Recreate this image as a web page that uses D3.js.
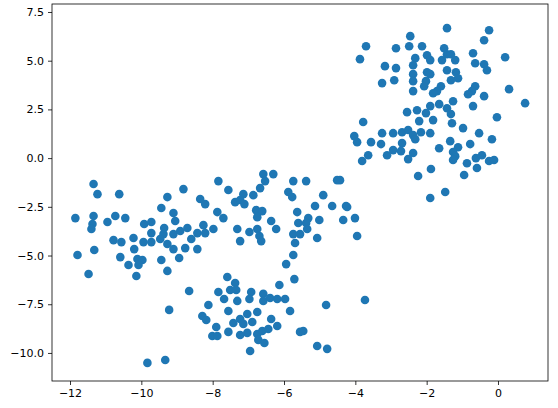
<!DOCTYPE html>
<html>
<head>
<meta charset="UTF-8">
<style>
  body { margin: 0; background: white; }
  text { font-family: "DejaVu Sans", sans-serif; font-size: 11px; }
</style>
</head>
<body>
<svg width="558" height="408"></svg>
<script src="https://d3js.org/d3.v7.min.js"></script>
<script>
const xs = [
  -1.43,-0.25,-2.46,-0.39,-3.70,-2.86,-2.49,-2.13,-1.51,-3.87,-2.32,-1.99,-1.90,-1.57,-1.43,-1.32,-1.20,-0.70,0.20,-0.64,
  -0.39,-0.31,-3.17,-2.86,-2.38,-2.38,-1.99,-1.90,-1.43,-1.18,-1.12,-1.32,-3.25,-2.91,-2.38,-2.02,-2.07,-1.60,-1.71,-1.82,
  -2.38,-0.64,-0.73,-0.84,-0.39,0.31,0.76,-1.26,-0.70,-1.90,-1.65,-1.43,-2.27,-2.55,-2.02,-1.32,-2.21,-1.82,-1.29,-0.03,
  -3.78,-0.98,-0.53,-0.17,-4.03,-3.95,-3.56,-3.25,-2.94,-2.69,-2.52,-2.38,-2.16,-1.90,-2.32,-2.69,-3.28,-2.94,-3.11,-2.72,
  -2.38,-2.52,-3.64,-3.81,-1.65,-1.34,-1.12,-0.78,-1.26,-1.20,-1.26,-0.87,-0.62,-0.45,-0.25,-0.11,-0.59,-0.95,-1.88,-2.24,
  -1.48,-1.90,-4.26,-4.43,
  -11.34,-11.23,-10.62,-8.82,-9.27,-8.35,-8.21,-11.85,-11.34,-11.37,-11.40,-10.95,-10.73,-10.45,-9.44,-9.10,-9.05,-9.92,-9.72,-9.72,
  -9.36,-9.38,-9.10,-8.91,-8.71,-8.43,-8.26,-8.21,-10.78,-10.56,-10.22,-10.20,-9.94,-9.72,-9.47,-9.27,-9.10,-8.77,-8.60,-8.43,
  -11.79,-11.32,-10.59,-10.11,-9.97,-10.36,-10.08,-9.44,-8.94,-9.27,-11.48,-10.14,
  -7.84,-6.58,-6.30,-6.53,-6.67,-7.56,-5.74,-5.38,-4.51,-5.88,-5.77,-7.14,-6.86,-7.37,-7.23,-7.11,-7.87,-7.70,-6.78,-6.61,
  -6.75,-4.90,-5.13,-4.65,-4.23,-5.63,-5.32,-5.01,-4.34,-4.01,-6.36,-6.22,-5.60,-5.38,-5.35,-7.98,-7.31,-6.97,-6.75,-6.69,
  -6.64,-7.23,-5.74,-5.55,-5.07,-3.95,-5.69,-5.74,-5.94,
  -7.59,-7.37,-5.71,-8.66,-7.84,-7.51,-7.34,-7.68,-7.31,-6.92,-6.97,-6.58,-6.58,-6.39,-6.19,-6.13,-5.97,-3.73,-4.82,-9.22,
  -8.12,-7.56,-6.75,-8.29,-8.18,-7.03,-7.23,-7.42,-7.14,-6.89,-6.36,-5.83,-7.90,-8.01,-7.87,-7.56,-7.23,-7.03,-6.75,-6.61,
  -6.44,-6.19,-6.72,-6.55,-5.55,-5.46,-5.07,-4.79,-6.95,-9.83,-9.33
];
const ys = [
  6.67,6.56,6.26,6.05,5.74,5.64,5.74,5.74,5.64,5.08,5.13,5.28,5.03,5.03,5.33,5.33,5.03,5.38,5.18,4.87,
  4.82,4.51,4.72,4.62,4.77,4.31,4.41,4.31,4.51,4.41,4.10,4.00,3.85,4.00,3.95,3.95,3.69,3.69,3.44,3.33,
  3.44,3.69,3.44,3.28,3.18,3.54,2.82,2.92,2.67,2.67,2.77,2.56,2.46,2.36,2.31,2.26,1.90,1.95,1.79,2.10,
  1.85,1.54,1.28,0.97,1.13,0.82,0.82,1.28,1.28,1.33,1.44,1.18,1.33,1.28,0.97,0.77,0.72,0.41,0.15,0.36,
  0.26,-0.05,0.15,-0.15,0.51,0.87,0.56,0.72,0.31,0.10,-0.10,-0.26,0.00,0.15,-0.15,-0.10,-0.51,-0.87,-0.56,-0.92,
  -1.74,-2.05,-2.46,-1.13,
  -1.33,-1.85,-1.85,-1.59,-2.00,-2.10,-2.36,-3.08,-2.97,-3.38,-3.64,-3.28,-2.97,-3.08,-2.56,-2.82,-3.23,-3.38,-3.28,-3.85,
  -3.59,-3.90,-3.90,-3.74,-3.59,-3.85,-3.44,-3.85,-4.21,-4.31,-4.10,-4.67,-4.31,-4.31,-4.15,-4.41,-4.67,-4.62,-4.15,-4.67,
  -4.97,-4.72,-5.08,-5.18,-5.23,-5.49,-5.49,-5.23,-5.13,-5.79,-5.95,-6.05,
  -1.18,-0.82,-0.82,-1.18,-1.54,-1.64,-1.18,-1.18,-1.13,-1.74,-2.00,-1.85,-1.90,-2.26,-2.15,-2.36,-2.77,-3.08,-2.67,-2.72,
  -3.03,-1.90,-2.46,-2.46,-2.51,-2.77,-3.08,-3.18,-3.18,-3.08,-3.23,-3.64,-3.33,-3.33,-3.64,-3.64,-3.64,-3.79,-3.64,-4.00,
  -4.26,-4.26,-3.90,-3.90,-4.10,-4.00,-4.36,-4.97,-5.44,
  -6.10,-6.41,-6.21,-6.82,-6.87,-6.77,-6.77,-7.23,-7.33,-6.87,-7.23,-6.97,-7.33,-7.18,-7.23,-6.51,-7.23,-7.28,-7.54,-7.79,
  -7.54,-7.85,-7.90,-8.10,-8.31,-8.00,-8.26,-8.46,-8.51,-8.41,-8.26,-7.85,-8.67,-9.13,-9.13,-8.92,-9.08,-8.97,-9.03,-8.87,
  -8.77,-8.62,-9.33,-9.49,-8.92,-8.87,-9.64,-9.79,-9.90,-10.51,-10.36
];
const xTicks = [-12, -10, -8, -6, -4, -2, 0];
const yTicks = [-10, -7.5, -5, -2.5, 0, 2.5, 5, 7.5];

const mLeft = 52, mRight = 548, mTop = 4, mBottom = 381;
const x = d3.scaleLinear().domain([-12.505, 1.402]).range([mLeft, mRight]);
const y = d3.scaleLinear().domain([-11.44, 7.91]).range([mBottom, mTop]);

const svg = d3.select("svg");

svg.append("g")
  .selectAll("circle")
  .data(xs.map((v, i) => [v, ys[i]]))
  .join("circle")
  .attr("cx", d => x(d[0]))
  .attr("cy", d => y(d[1]))
  .attr("r", 4.3)
  .attr("fill", "#1f77b4");

const xAxis = svg.append("g")
  .attr("transform", `translate(0,${mBottom})`)
  .call(d3.axisBottom(x).tickValues(xTicks).tickSize(4).tickPadding(4).tickFormat(d => d < 0 ? "\u2212" + Math.abs(d) : d));
const yAxis = svg.append("g")
  .attr("transform", `translate(${mLeft},0)`)
  .call(d3.axisLeft(y).tickValues(yTicks).tickSize(4).tickPadding(4)
    .tickFormat(d => (d < 0 ? "\u2212" : "") + Math.abs(d).toFixed(1)));
[xAxis, yAxis].forEach(a => {
  a.select(".domain").remove();
  a.selectAll("text").attr("fill", "black").style("font-size", "11px");
  a.selectAll("line").attr("stroke", "black").attr("stroke-width", 0.8);
});

svg.append("rect")
  .attr("x", mLeft).attr("y", mTop)
  .attr("width", mRight - mLeft).attr("height", mBottom - mTop)
  .attr("fill", "none").attr("stroke", "black").attr("stroke-width", 0.8);
</script>
</body>
</html>
